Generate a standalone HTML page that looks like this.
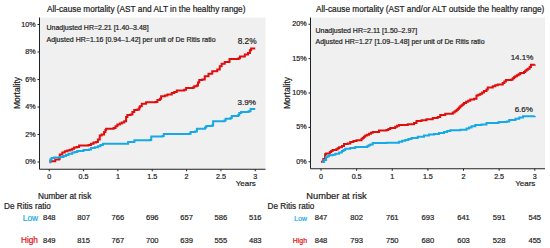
<!DOCTYPE html>
<html><head><meta charset="utf-8"><style>
html,body{margin:0;padding:0;background:#fff;width:550px;height:248px;overflow:hidden}
svg{display:block}
text{stroke:#222;stroke-width:0.2px}
</style></head><body>
<svg width="550" height="248" viewBox="0 0 550 248" font-family="Liberation Sans, sans-serif" fill="#222">
<rect width="550" height="248" fill="#fff"/>
<rect x="39.5" y="17.5" width="226.0" height="151.75" fill="#f0f0f0"/>
<line x1="39.5" y1="17.5" x2="39.5" y2="169.25" stroke="#222" stroke-width="1"/>
<line x1="39.5" y1="169.25" x2="265.5" y2="169.25" stroke="#222" stroke-width="1"/>
<line x1="37.5" y1="162" x2="39.5" y2="162" stroke="#222" stroke-width="1"/>
<text x="35.7" y="164.1" text-anchor="end" font-size="7.2">0%</text>
<line x1="37.5" y1="134.5" x2="39.5" y2="134.5" stroke="#222" stroke-width="1"/>
<text x="35.7" y="136.6" text-anchor="end" font-size="7.2">2%</text>
<line x1="37.5" y1="107" x2="39.5" y2="107" stroke="#222" stroke-width="1"/>
<text x="35.7" y="109.1" text-anchor="end" font-size="7.2">4%</text>
<line x1="37.5" y1="79.5" x2="39.5" y2="79.5" stroke="#222" stroke-width="1"/>
<text x="35.7" y="81.6" text-anchor="end" font-size="7.2">6%</text>
<line x1="37.5" y1="52" x2="39.5" y2="52" stroke="#222" stroke-width="1"/>
<text x="35.7" y="54.1" text-anchor="end" font-size="7.2">8%</text>
<line x1="37.5" y1="24.5" x2="39.5" y2="24.5" stroke="#222" stroke-width="1"/>
<text x="35.7" y="26.6" text-anchor="end" font-size="7.2">10%</text>
<line x1="49.25" y1="169.25" x2="49.25" y2="171.25" stroke="#222" stroke-width="1"/>
<text x="49.25" y="179.25" text-anchor="middle" font-size="7.2">0</text>
<line x1="83.58333333333334" y1="169.25" x2="83.58333333333334" y2="171.25" stroke="#222" stroke-width="1"/>
<text x="83.58333333333334" y="179.25" text-anchor="middle" font-size="7.2">0.5</text>
<line x1="117.91666666666667" y1="169.25" x2="117.91666666666667" y2="171.25" stroke="#222" stroke-width="1"/>
<text x="117.91666666666667" y="179.25" text-anchor="middle" font-size="7.2">1</text>
<line x1="152.25" y1="169.25" x2="152.25" y2="171.25" stroke="#222" stroke-width="1"/>
<text x="152.25" y="179.25" text-anchor="middle" font-size="7.2">1.5</text>
<line x1="186.58333333333334" y1="169.25" x2="186.58333333333334" y2="171.25" stroke="#222" stroke-width="1"/>
<text x="186.58333333333334" y="179.25" text-anchor="middle" font-size="7.2">2</text>
<line x1="220.91666666666666" y1="169.25" x2="220.91666666666666" y2="171.25" stroke="#222" stroke-width="1"/>
<text x="220.91666666666666" y="179.25" text-anchor="middle" font-size="7.2">2.5</text>
<line x1="255.25" y1="169.25" x2="255.25" y2="171.25" stroke="#222" stroke-width="1"/>
<text x="255.25" y="179.25" text-anchor="middle" font-size="7.2">3</text>
<text x="255.85" y="186.4" text-anchor="end" font-size="8">Years</text>
<text x="47" y="11.5" font-size="8.28">All-cause mortality (AST and ALT in the healthy range)</text>
<text x="46.5" y="30.3" font-size="7">Unadjusted HR=2.21 [1.40–3.48]</text>
<text x="46.5" y="41.5" font-size="7">Adjusted HR=1.16 [0.94–1.42] per unit of De Ritis ratio</text>
<path d="M49.60 162.20 H50.25 V161.25 H52.75 V161.25 H55.25 V159.40 H59.10 V158.75 H59.75 V154.40 H62.25 V152.50 H64.75 V151.25 H67.25 V150.60 H69.75 V149.75 H72.25 V148.75 H74.10 V147.50 H76.60 V146.90 H79.10 V145.60 H88.50 V145.00 H91.00 V143.75 H93.50 V142.50 H96.00 V141.90 H97.90 V139.40 H99.75 V135.60 H101.60 V134.40 H104.10 V131.90 H105.40 V130.00 H106.10 V128.75 H113.60 V128.10 H115.50 V126.25 H117.40 V124.40 H119.90 V123.50 H121.75 V122.50 H124.25 V121.25 H126.10 V116.90 H127.40 V115.00 H130.50 V114.40 H132.40 V111.90 H134.25 V110.00 H137.40 V109.40 H139.25 V107.50 H139.90 V106.25 H141.75 V103.75 H146.10 V102.25 H155.50 V101.90 H157.40 V100.00 H159.90 V98.75 H161.10 V96.25 H164.90 V95.60 H167.40 V94.40 H171.75 V93.10 H174.25 V91.90 H176.75 V90.60 H184.25 V89.75 H186.10 V88.10 H193.00 V87.50 H194.25 V86.25 H196.75 V85.60 H198.00 V82.50 H199.25 V80.00 H202.25 V79.40 H204.75 V76.25 H208.50 V73.75 H212.25 V71.25 H217.25 V69.40 H219.75 V66.25 H221.60 V63.75 H224.75 V61.90 H229.50 V59.00 H238.60 V58.30 H240.00 V56.50 H244.80 V54.50 H248.00 V53.00 H249.90 V50.20 H251.10 V48.60 H255.25 V48.60" fill="none" stroke="#e00d0d" stroke-width="2"/>
<path d="M49.60 161.90 H50.25 V159.40 H51.50 V158.10 H54.00 V157.50 H59.75 V156.90 H63.50 V156.00 H66.00 V155.00 H68.50 V153.75 H72.25 V152.50 H74.75 V151.90 H77.25 V151.00 H83.50 V150.00 H89.10 V149.50 H91.00 V148.10 H94.75 V147.25 H97.90 V146.25 H100.40 V145.00 H102.90 V143.75 H127.50 V143.75 H128.10 V141.90 H133.75 V141.90 H134.40 V140.25 H150.00 V140.00 H151.25 V136.50 H162.50 V136.00 H163.75 V134.00 H189.40 V133.75 H190.60 V131.90 H195.00 V131.50 H196.90 V128.75 H205.00 V127.50 H206.25 V126.00 H211.90 V125.60 H213.10 V121.25 H224.40 V120.60 H225.60 V118.75 H230.60 V118.10 H231.75 V116.00 H238.00 V115.25 H239.25 V113.10 H241.10 V111.90 H248.60 V111.25 H250.50 V109.00 H255.25 V109.00" fill="none" stroke="#17a9e6" stroke-width="2"/>
<text x="19.9" y="93" transform="rotate(-90 19.9 93)" text-anchor="middle" font-size="8.5">Mortality</text>
<text x="247.1" y="44.2" text-anchor="middle" font-size="8.3">8.2%</text>
<text x="246.8" y="104.5" text-anchor="middle" font-size="8.1">3.9%</text>
<rect x="310.5" y="17.5" width="234.5" height="151.25" fill="#f0f0f0"/>
<line x1="310.5" y1="17.5" x2="310.5" y2="168.75" stroke="#222" stroke-width="1"/>
<line x1="310.5" y1="168.75" x2="545" y2="168.75" stroke="#222" stroke-width="1"/>
<line x1="308.5" y1="161.75" x2="310.5" y2="161.75" stroke="#222" stroke-width="1"/>
<text x="306.7" y="163.85" text-anchor="end" font-size="7.2">0%</text>
<line x1="308.5" y1="127.375" x2="310.5" y2="127.375" stroke="#222" stroke-width="1"/>
<text x="306.7" y="129.475" text-anchor="end" font-size="7.2">5%</text>
<line x1="308.5" y1="93" x2="310.5" y2="93" stroke="#222" stroke-width="1"/>
<text x="306.7" y="95.1" text-anchor="end" font-size="7.2">10%</text>
<line x1="308.5" y1="58.625" x2="310.5" y2="58.625" stroke="#222" stroke-width="1"/>
<text x="306.7" y="60.725" text-anchor="end" font-size="7.2">15%</text>
<line x1="308.5" y1="24.25" x2="310.5" y2="24.25" stroke="#222" stroke-width="1"/>
<text x="306.7" y="26.35" text-anchor="end" font-size="7.2">20%</text>
<line x1="321.0" y1="168.75" x2="321.0" y2="170.75" stroke="#222" stroke-width="1"/>
<text x="321.0" y="178.75" text-anchor="middle" font-size="7.2">0</text>
<line x1="356.625" y1="168.75" x2="356.625" y2="170.75" stroke="#222" stroke-width="1"/>
<text x="356.625" y="178.75" text-anchor="middle" font-size="7.2">0.5</text>
<line x1="392.25" y1="168.75" x2="392.25" y2="170.75" stroke="#222" stroke-width="1"/>
<text x="392.25" y="178.75" text-anchor="middle" font-size="7.2">1</text>
<line x1="427.875" y1="168.75" x2="427.875" y2="170.75" stroke="#222" stroke-width="1"/>
<text x="427.875" y="178.75" text-anchor="middle" font-size="7.2">1.5</text>
<line x1="463.5" y1="168.75" x2="463.5" y2="170.75" stroke="#222" stroke-width="1"/>
<text x="463.5" y="178.75" text-anchor="middle" font-size="7.2">2</text>
<line x1="499.125" y1="168.75" x2="499.125" y2="170.75" stroke="#222" stroke-width="1"/>
<text x="499.125" y="178.75" text-anchor="middle" font-size="7.2">2.5</text>
<line x1="534.75" y1="168.75" x2="534.75" y2="170.75" stroke="#222" stroke-width="1"/>
<text x="534.75" y="178.75" text-anchor="middle" font-size="7.2">3</text>
<text x="535.35" y="186.4" text-anchor="end" font-size="8">Years</text>
<text x="316" y="11.6" font-size="8.28">All-cause mortality (AST and/or ALT outside the healthy range)</text>
<text x="315.5" y="33.3" font-size="7">Unadjusted HR=2.11 [1.50–2.97]</text>
<text x="315.5" y="43.7" font-size="7">Adjusted HR=1.27 [1.09–1.48] per unit of De Ritis ratio</text>
<path d="M321.00 161.70 H323.30 V158.90 H325.10 V154.30 H326.10 V153.40 H329.80 V152.00 H331.20 V151.05 H332.60 V150.10 H336.30 V149.20 H337.70 V148.25 H339.10 V147.30 H341.90 V145.90 H344.00 V144.00 H347.75 V143.50 H350.25 V141.90 H353.38 V141.07 H356.50 V140.25 H361.50 V138.75 H362.75 V137.70 H364.00 V136.65 H365.25 V135.60 H367.12 V134.68 H369.00 V133.75 H370.88 V132.82 H372.75 V131.90 H379.00 V130.50 H386.50 V129.90 H388.38 V128.95 H390.25 V128.00 H395.25 V126.75 H397.12 V125.83 H399.00 V124.90 H407.75 V124.25 H414.00 V123.00 H416.50 V121.10 H421.50 V120.25 H426.50 V119.25 H432.75 V118.00 H437.75 V116.90 H440.25 V115.00 H445.25 V113.75 H452.75 V112.50 H454.62 V111.25 H456.50 V110.00 H457.75 V108.75 H459.00 V107.50 H460.25 V106.25 H461.50 V105.20 H462.75 V104.15 H464.00 V103.10 H466.08 V101.87 H468.17 V100.63 H470.25 V99.40 H474.00 V98.75 H476.50 V95.60 H478.38 V94.67 H480.25 V93.75 H482.12 V92.38 H484.00 V91.00 H486.50 V89.50 H487.75 V87.50 H492.75 V86.25 H495.25 V85.33 H497.75 V84.40 H502.75 V83.10 H504.32 V81.55 H505.90 V80.00 H511.50 V79.40 H512.75 V78.35 H514.00 V77.30 H515.25 V76.25 H516.92 V75.20 H518.58 V74.15 H520.25 V73.10 H524.00 V71.90 H525.25 V70.85 H526.50 V69.80 H527.75 V68.75 H529.60 V66.90 H530.90 V64.75 H534.75 V64.50" fill="none" stroke="#e00d0d" stroke-width="2"/>
<path d="M321.90 161.70 H324.20 V159.90 H326.10 V157.10 H327.50 V156.15 H328.90 V155.20 H332.60 V154.70 H335.40 V153.80 H339.10 V152.40 H341.90 V151.00 H343.57 V149.88 H345.25 V148.75 H350.25 V148.10 H355.25 V146.90 H367.10 V146.25 H368.68 V145.32 H370.25 V144.40 H372.75 V143.10 H386.50 V142.75 H399.00 V141.75 H402.12 V140.82 H405.25 V139.90 H408.38 V138.95 H411.50 V138.00 H417.75 V136.75 H424.00 V135.50 H429.00 V134.50 H434.00 V134.00 H439.00 V133.10 H444.00 V131.90 H447.12 V131.07 H450.25 V130.25 H460.25 V129.75 H466.50 V128.50 H469.00 V127.38 H471.50 V126.25 H475.25 V125.00 H481.50 V124.40 H486.50 V123.00 H498.60 V121.90 H506.75 V121.50 H509.25 V120.00 H515.50 V118.75 H519.25 V117.50 H523.00 V116.25 H534.75 V116.00" fill="none" stroke="#17a9e6" stroke-width="2"/>
<text x="290" y="93" transform="rotate(-90 290 93)" text-anchor="middle" font-size="8.5">Mortality</text>
<text x="522" y="60.3" text-anchor="middle" font-size="8">14.1%</text>
<text x="523.8" y="111.8" text-anchor="middle" font-size="8">6.6%</text>
<text x="38" y="199.2" font-size="8.2">Number at risk</text>
<text x="4" y="208.8" font-size="8.2">De Ritis ratio</text>
<text x="38" y="220.5" text-anchor="end" font-size="8.3" fill="#17a9e6" style="stroke:#17a9e6">Low</text>
<text x="38" y="243" text-anchor="end" font-size="8.3" fill="#e00d0d" style="stroke:#e00d0d">High</text>
<text x="49.25" y="220.3" text-anchor="middle" font-size="7.6">848</text>
<text x="49.25" y="242.8" text-anchor="middle" font-size="7.6">849</text>
<text x="83.58333333333334" y="220.3" text-anchor="middle" font-size="7.6">807</text>
<text x="83.58333333333334" y="242.8" text-anchor="middle" font-size="7.6">815</text>
<text x="117.91666666666667" y="220.3" text-anchor="middle" font-size="7.6">766</text>
<text x="117.91666666666667" y="242.8" text-anchor="middle" font-size="7.6">767</text>
<text x="152.25" y="220.3" text-anchor="middle" font-size="7.6">696</text>
<text x="152.25" y="242.8" text-anchor="middle" font-size="7.6">700</text>
<text x="186.58333333333334" y="220.3" text-anchor="middle" font-size="7.6">657</text>
<text x="186.58333333333334" y="242.8" text-anchor="middle" font-size="7.6">639</text>
<text x="220.91666666666666" y="220.3" text-anchor="middle" font-size="7.6">586</text>
<text x="220.91666666666666" y="242.8" text-anchor="middle" font-size="7.6">555</text>
<text x="255.25" y="220.3" text-anchor="middle" font-size="7.6">516</text>
<text x="255.25" y="242.8" text-anchor="middle" font-size="7.6">483</text>
<text x="306.25" y="199.2" font-size="9.3">Number at risk</text>
<text x="267.5" y="208.8" font-size="8.2">De Ritis ratio</text>
<text x="307" y="220.5" text-anchor="end" font-size="6.9" fill="#17a9e6" style="stroke:#17a9e6">Low</text>
<text x="307" y="243" text-anchor="end" font-size="6.9" fill="#e00d0d" style="stroke:#e00d0d">High</text>
<text x="321.0" y="220.3" text-anchor="middle" font-size="7.6">847</text>
<text x="321.0" y="242.8" text-anchor="middle" font-size="7.6">848</text>
<text x="356.625" y="220.3" text-anchor="middle" font-size="7.6">802</text>
<text x="356.625" y="242.8" text-anchor="middle" font-size="7.6">793</text>
<text x="392.25" y="220.3" text-anchor="middle" font-size="7.6">761</text>
<text x="392.25" y="242.8" text-anchor="middle" font-size="7.6">750</text>
<text x="427.875" y="220.3" text-anchor="middle" font-size="7.6">693</text>
<text x="427.875" y="242.8" text-anchor="middle" font-size="7.6">680</text>
<text x="463.5" y="220.3" text-anchor="middle" font-size="7.6">641</text>
<text x="463.5" y="242.8" text-anchor="middle" font-size="7.6">603</text>
<text x="499.125" y="220.3" text-anchor="middle" font-size="7.6">591</text>
<text x="499.125" y="242.8" text-anchor="middle" font-size="7.6">528</text>
<text x="534.75" y="220.3" text-anchor="middle" font-size="7.6">545</text>
<text x="534.75" y="242.8" text-anchor="middle" font-size="7.6">455</text>
</svg>
</body></html>
